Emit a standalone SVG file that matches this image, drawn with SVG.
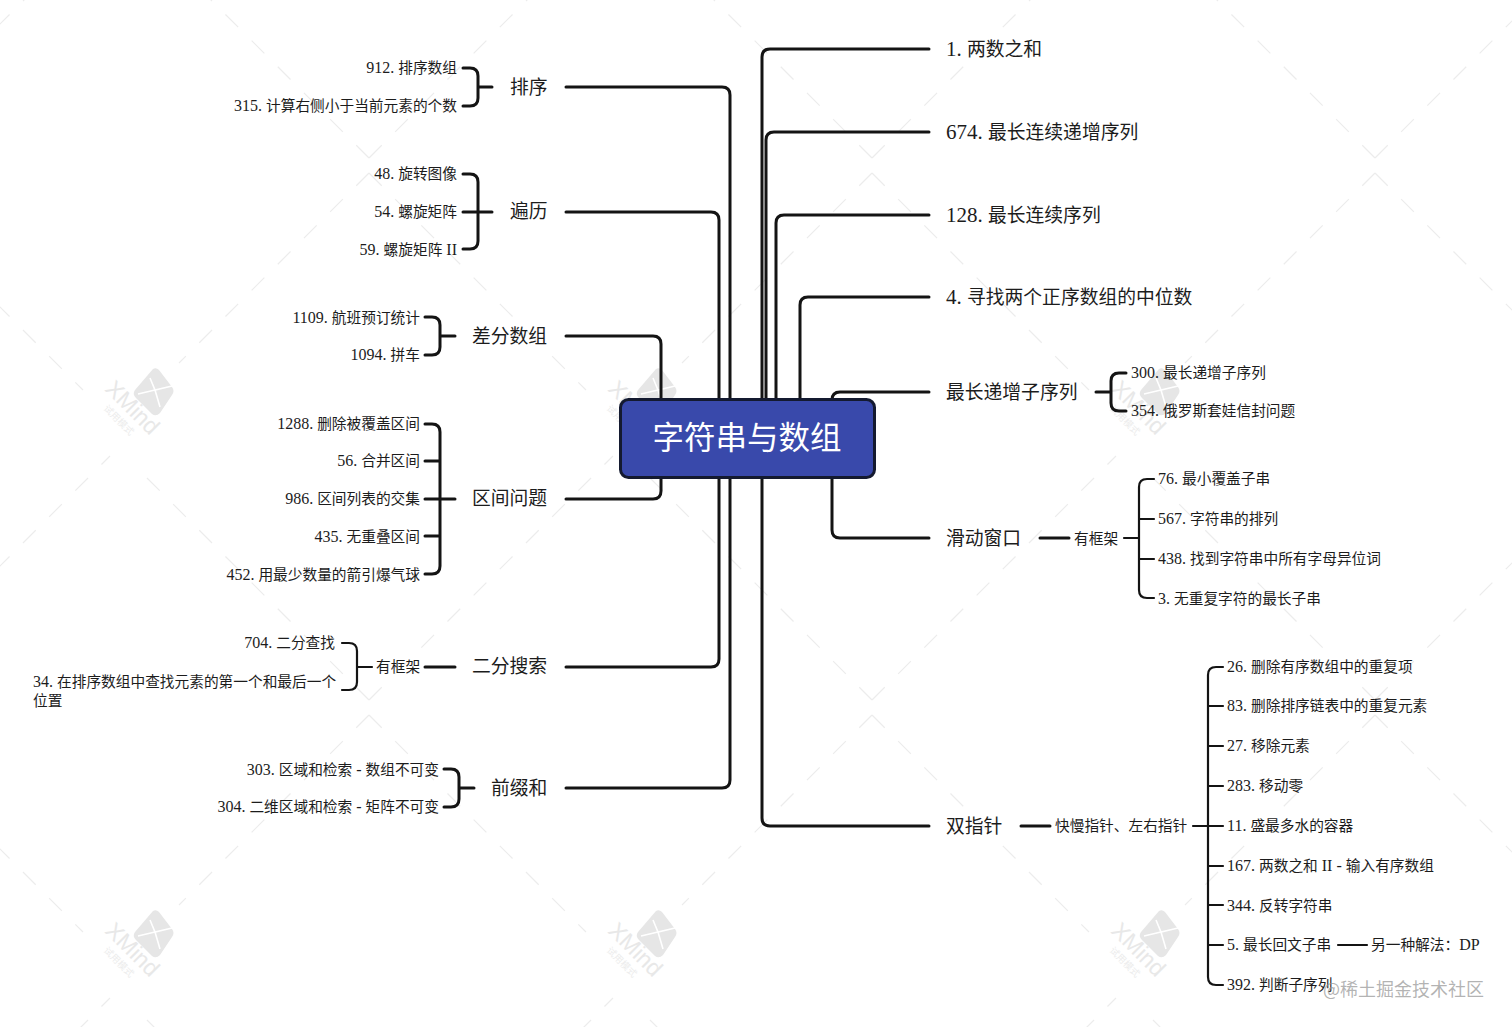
<svg xmlns="http://www.w3.org/2000/svg" xmlns:xlink="http://www.w3.org/1999/xlink" width="1512" height="1027" viewBox="0 0 1512 1027">
<style>
text{font-family:"Liberation Serif","Noto Sans CJK SC",sans-serif;fill:#1c1c1c}
.l{font-size:14.7px}
.m{font-size:18.8px}
.l .n{font-size:16px}
.m .n{font-size:21px}
.e{text-anchor:end}
.c{fill:none;stroke:#141414;stroke-width:3;stroke-linecap:round}
.t{fill:none;stroke:#141414;stroke-width:2.2;stroke-linecap:round}
.k{fill:none;stroke:#ececec;stroke-width:1.2;stroke-dasharray:18 19}
.wt{font-family:"Liberation Sans",sans-serif;font-size:23px;fill:#e8e8e8}
.ws{font-family:"Noto Sans CJK SC",sans-serif;font-size:9.500px;fill:#ececec}
</style>
<defs>
<g id="tick">
<path class="k" d="M369 158L138 -73"/>
<path class="k" d="M369 158L613 -86"/>
<path class="k" d="M369 173L179 363"/>
<path class="k" d="M369 173L586 390"/>
</g>
<g id="mark">
<path d="M153 369Q156 367 159 370L172 387Q175 391 172 395L160 413Q156 417 152 414L136 398Q132 394 135 390Z" fill="#e6e6e6"/>
<path d="M150 378L155 390L172 386M155 390L160 407M155 390L138 394" fill="none" stroke="#fff" stroke-width="1.6"/>
<text class="wt" transform="translate(104 390) rotate(45)">XMind</text>
<text class="ws" transform="translate(103 409) rotate(45)">试用模式</text>
</g>
</defs>
<rect width="1512" height="1027" fill="#fff"/>
<g id="watermark">
<use xlink:href="#tick" href="#tick" x="-503" y="0"/><use xlink:href="#tick" href="#tick" x="0" y="0"/><use xlink:href="#tick" href="#tick" x="503" y="0"/><use xlink:href="#tick" href="#tick" x="1006" y="0"/>
<use xlink:href="#tick" href="#tick" x="-503" y="542"/><use xlink:href="#tick" href="#tick" x="0" y="542"/><use xlink:href="#tick" href="#tick" x="503" y="542"/><use xlink:href="#tick" href="#tick" x="1006" y="542"/>
<use xlink:href="#tick" href="#tick" x="-503" y="1084"/><use xlink:href="#tick" href="#tick" x="0" y="1084"/><use xlink:href="#tick" href="#tick" x="503" y="1084"/><use xlink:href="#tick" href="#tick" x="1006" y="1084"/>
<use xlink:href="#mark" href="#mark" x="0" y="0"/><use xlink:href="#mark" href="#mark" x="503" y="0"/><use xlink:href="#mark" href="#mark" x="1006" y="0"/>
<use xlink:href="#mark" href="#mark" x="0" y="542"/><use xlink:href="#mark" href="#mark" x="503" y="542"/><use xlink:href="#mark" href="#mark" x="1006" y="542"/>
</g>
<g id="connectors">
<path class="c" d="M566 87H722Q730 87 730 95V400"/>
<path class="c" d="M566 212H711Q719 212 719 220V400"/>
<path class="c" d="M566 336H653Q661 336 661 344V400"/>
<path class="c" d="M566 499H653Q661 499 661 491V478"/>
<path class="c" d="M566 667H711Q719 667 719 659V478"/>
<path class="c" d="M566 788H722Q730 788 730 780V478"/>
<path class="c" d="M929 49H770Q762 49 762 57V400"/>
<path class="c" d="M929 132H774Q766 132 766 140V400"/>
<path class="c" d="M929 215H784Q776 215 776 223V400"/>
<path class="c" d="M929 297H808Q800 297 800 305V400"/>
<path class="c" d="M929 392H840Q832 392 832 400"/>
<path class="c" d="M929 538H840Q832 538 832 530V478"/>
<path class="c" d="M929 826H770Q762 826 762 818V478"/>
<path class="c" d="M463 68H470Q478 68 478 76V98Q478 106 470 106H463M478 87H492"/>
<path class="c" d="M463 174H470Q478 174 478 182V241Q478 249 470 249H463M463 212H492"/>
<path class="c" d="M425 317H432Q440 317 440 325V347Q440 355 432 355H425M440 336H455"/>
<path class="c" d="M425 424H432Q440 424 440 432V566Q440 574 432 574H425M425 461H440M425 499H455M425 536H440"/>
<path class="t" d="M342 643H349Q357 643 357 651V682Q357 690 349 690H342M357 667H372"/>
<path class="c" d="M425 667H455"/>
<path class="c" d="M444 769H451Q459 769 459 777V799Q459 807 451 807H444M459 788H474"/>
<path class="c" d="M1096 392H1111M1126 373H1119Q1111 373 1111 381V403Q1111 411 1119 411H1126"/>
<path class="c" d="M1040 538H1069"/>
<path class="t" d="M1124 538H1139M1154 479H1147Q1139 479 1139 487V590Q1139 598 1147 598H1154M1139 519H1154M1139 559H1154"/>
<path class="c" d="M1021 826H1050"/>
<path class="t" d="M1193 826H1223M1223 667H1216Q1208 667 1208 675V977Q1208 985 1216 985H1223M1208 706H1223M1208 746H1223M1208 786H1223M1208 866H1223M1208 905H1223M1208 945H1223"/>
<path class="t" d="M1338 945H1367"/>
</g>
<g id="center"><rect x="620.500" y="399.500" width="254" height="78" rx="8" fill="#3949ab" stroke="#141a30" stroke-width="3"/><text x="747" y="449" text-anchor="middle" style="font-size:31.500px;fill:#fff">字符串与数组</text></g>
<g id="n-sort"><text class="m" x="510" y="94">排序</text></g>
<g id="n-912"><text class="l e" x="457" y="73"><tspan class="n">912. </tspan>排序数组</text></g>
<g id="n-315"><text class="l e" x="457" y="111"><tspan class="n">315. </tspan>计算右侧小于当前元素的个数</text></g>
<g id="n-trav"><text class="m" x="510" y="218">遍历</text></g>
<g id="n-48"><text class="l e" x="457" y="179"><tspan class="n">48. </tspan>旋转图像</text></g>
<g id="n-54"><text class="l e" x="457" y="217"><tspan class="n">54. </tspan>螺旋矩阵</text></g>
<g id="n-59"><text class="l e" x="457" y="255"><tspan class="n">59. </tspan>螺旋矩阵<tspan class="n"> II</tspan></text></g>
<g id="n-diff"><text class="m" x="472" y="343">差分数组</text></g>
<g id="n-1109"><text class="l e" x="420" y="323"><tspan class="n">1109. </tspan>航班预订统计</text></g>
<g id="n-1094"><text class="l e" x="420" y="360"><tspan class="n">1094. </tspan>拼车</text></g>
<g id="n-range"><text class="m" x="472" y="505">区间问题</text></g>
<g id="n-1288"><text class="l e" x="420" y="429"><tspan class="n">1288. </tspan>删除被覆盖区间</text></g>
<g id="n-56"><text class="l e" x="420" y="466"><tspan class="n">56. </tspan>合并区间</text></g>
<g id="n-986"><text class="l e" x="420" y="504"><tspan class="n">986. </tspan>区间列表的交集</text></g>
<g id="n-435"><text class="l e" x="420" y="542"><tspan class="n">435. </tspan>无重叠区间</text></g>
<g id="n-452"><text class="l e" x="420" y="580"><tspan class="n">452. </tspan>用最少数量的箭引爆气球</text></g>
<g id="n-bin"><text class="m" x="472" y="673">二分搜索</text></g>
<g id="n-binf"><text class="l" x="376" y="672">有框架</text></g>
<g id="n-704"><text class="l e" x="335" y="648"><tspan class="n">704. </tspan>二分查找</text></g>
<g id="n-34"><text class="l" x="33" y="687"><tspan class="n">34. </tspan>在排序数组中查找元素的第一个和最后一个</text><text class="l" x="33" y="706">位置</text></g>
<g id="n-pre"><text class="m" x="491" y="795">前缀和</text></g>
<g id="n-303"><text class="l e" x="439" y="775"><tspan class="n">303. </tspan>区域和检索<tspan class="n"> - </tspan>数组不可变</text></g>
<g id="n-304"><text class="l e" x="439" y="812"><tspan class="n">304. </tspan>二维区域和检索<tspan class="n"> - </tspan>矩阵不可变</text></g>
<g id="n-1"><text class="m" x="946" y="56"><tspan class="n">1. </tspan>两数之和</text></g>
<g id="n-674"><text class="m" x="946" y="139"><tspan class="n">674. </tspan>最长连续递增序列</text></g>
<g id="n-128"><text class="m" x="946" y="222"><tspan class="n">128. </tspan>最长连续序列</text></g>
<g id="n-4"><text class="m" x="946" y="304"><tspan class="n">4. </tspan>寻找两个正序数组的中位数</text></g>
<g id="n-lis"><text class="m" x="946" y="399">最长递增子序列</text></g>
<g id="n-300"><text class="l" x="1131" y="378"><tspan class="n">300. </tspan>最长递增子序列</text></g>
<g id="n-354"><text class="l" x="1131" y="416"><tspan class="n">354. </tspan>俄罗斯套娃信封问题</text></g>
<g id="n-win"><text class="m" x="946" y="545">滑动窗口</text></g>
<g id="n-winf"><text class="l" x="1074" y="544">有框架</text></g>
<g id="n-76"><text class="l" x="1158" y="484"><tspan class="n">76. </tspan>最小覆盖子串</text></g>
<g id="n-567"><text class="l" x="1158" y="524"><tspan class="n">567. </tspan>字符串的排列</text></g>
<g id="n-438"><text class="l" x="1158" y="564"><tspan class="n">438. </tspan>找到字符串中所有字母异位词</text></g>
<g id="n-3"><text class="l" x="1158" y="604"><tspan class="n">3. </tspan>无重复字符的最长子串</text></g>
<g id="n-two"><text class="m" x="946" y="833">双指针</text></g>
<g id="n-twof"><text class="l" x="1055" y="831">快慢指针、左右指针</text></g>
<g id="n-26"><text class="l" x="1227" y="672"><tspan class="n">26. </tspan>删除有序数组中的重复项</text></g>
<g id="n-83"><text class="l" x="1227" y="711"><tspan class="n">83. </tspan>删除排序链表中的重复元素</text></g>
<g id="n-27"><text class="l" x="1227" y="751"><tspan class="n">27. </tspan>移除元素</text></g>
<g id="n-283"><text class="l" x="1227" y="791"><tspan class="n">283. </tspan>移动零</text></g>
<g id="n-11"><text class="l" x="1227" y="831"><tspan class="n">11. </tspan>盛最多水的容器</text></g>
<g id="n-167"><text class="l" x="1227" y="871"><tspan class="n">167. </tspan>两数之和<tspan class="n"> II - </tspan>输入有序数组</text></g>
<g id="n-344"><text class="l" x="1227" y="911"><tspan class="n">344. </tspan>反转字符串</text></g>
<g id="n-5"><text class="l" x="1227" y="950"><tspan class="n">5. </tspan>最长回文子串</text></g>
<g id="n-dp"><text class="l" x="1371" y="950">另一种解法：<tspan class="n">DP</tspan></text></g>
<g id="n-392"><text class="l" x="1227" y="990"><tspan class="n">392. </tspan>判断子序列</text></g>
<text x="1323" y="996" style="font-family:'Noto Sans CJK SC',sans-serif;font-size:18px;fill:#9a9a9a;fill-opacity:.75">@稀土掘金技术社区</text>
</svg>
